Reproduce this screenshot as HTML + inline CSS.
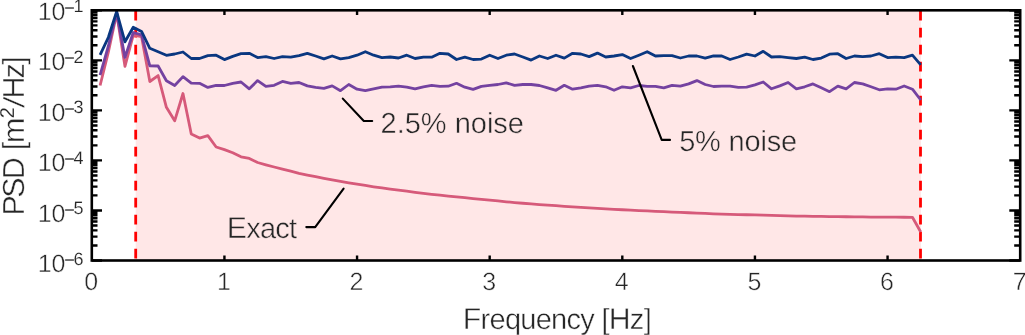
<!DOCTYPE html>
<html><head><meta charset="utf-8"><style>
html,body{margin:0;padding:0;background:#fff;}
svg{display:block;}
text{font-family:"Liberation Sans",Arial,sans-serif;text-rendering:geometricPrecision;fill:#262626;stroke:#fff;stroke-width:0.45px;paint-order:fill stroke;}
tspan.s{stroke-width:0.15px;}
tspan.m{stroke-width:0;}
.in text{stroke:#ffe7e7;}
</style></head><body>
<svg width="1025" height="335" viewBox="0 0 1025 335">
<rect x="0" y="0" width="1025" height="335" fill="#fff"/>
<rect x="135.70" y="10.30" width="785.30" height="250.20" fill="#ffe7e7"/>
<g stroke="#ff0000" stroke-width="2.8" stroke-dasharray="9.8 7.2">
<line x1="135.70" y1="10.8" x2="135.70" y2="260.50"/>
<line x1="920.50" y1="10.8" x2="920.50" y2="260.50"/>
</g>
<defs><clipPath id="ax"><rect x="91.80" y="10.30" width="928.40" height="250.20"/></clipPath></defs>
<g fill="none" stroke-width="2.8" stroke-linejoin="round" clip-path="url(#ax)">
<polyline points="100.09,85.50 108.38,52.00 116.67,13.50 124.96,66.30 133.25,35.20 141.54,36.60 149.82,81.50 158.11,75.60 166.40,107.30 174.69,120.80 182.98,93.50 191.27,134.00 199.56,138.10 207.85,135.60 216.14,147.00 224.43,149.60 232.72,152.70 241.01,156.80 249.30,158.40 257.59,162.50 265.88,164.82 274.16,167.02 282.45,169.21 290.74,171.21 299.03,173.28 307.32,175.04 315.61,176.65 323.90,178.26 332.19,179.86 340.48,181.38 348.77,182.79 357.06,184.13 365.35,185.46 373.64,186.76 381.93,187.97 390.21,189.05 398.50,190.10 406.79,191.23 415.08,192.38 423.37,193.40 431.66,194.31 439.95,195.17 448.24,196.02 456.53,196.87 464.82,197.70 473.11,198.52 481.40,199.34 489.69,200.15 497.98,200.97 506.26,201.77 514.55,202.53 522.84,203.24 531.13,203.90 539.42,204.53 547.71,205.13 556.00,205.72 564.29,206.30 572.58,206.87 580.87,207.42 589.16,207.95 597.45,208.45 605.74,208.92 614.02,209.35 622.31,209.76 630.60,210.16 638.89,210.55 647.18,210.94 655.47,211.32 663.76,211.69 672.05,212.06 680.34,212.41 688.63,212.77 696.92,213.12 705.21,213.46 713.50,213.78 721.79,214.06 730.07,214.31 738.36,214.54 746.65,214.76 754.94,214.97 763.23,215.19 771.52,215.41 779.81,215.63 788.10,215.84 796.39,216.03 804.68,216.19 812.97,216.33 821.26,216.45 829.55,216.57 837.84,216.67 846.12,216.77 854.41,216.86 862.70,216.95 870.99,217.03 879.28,217.09 887.57,217.16 895.86,217.21 904.15,217.26 912.44,217.30 920.73,232.00" stroke="#d65a7a"/>
<polyline points="100.09,75.20 108.38,46.00 116.67,12.50 124.96,57.40 133.25,32.50 141.54,34.80 149.82,65.80 158.11,66.00 166.40,80.80 174.69,85.50 182.98,76.60 191.27,83.20 199.56,83.30 207.85,87.40 216.14,85.30 224.43,85.50 232.72,83.30 241.01,82.00 249.30,88.80 257.59,80.60 265.88,86.40 274.16,85.30 282.45,81.40 290.74,83.30 299.03,82.50 307.32,85.90 315.61,87.40 323.90,88.40 332.19,85.90 340.48,90.70 348.77,84.50 357.06,89.20 365.35,90.70 373.64,88.80 381.93,87.20 390.21,86.80 398.50,86.20 406.79,87.20 415.08,88.80 423.37,86.80 431.66,85.30 439.95,86.40 448.24,86.20 456.53,83.30 464.82,87.20 473.11,89.40 481.40,86.40 489.69,85.30 497.98,84.50 506.26,82.90 514.55,85.30 522.84,84.50 531.13,84.50 539.42,85.50 547.71,87.80 556.00,90.30 564.29,85.30 572.58,89.20 580.87,87.80 589.16,86.20 597.45,85.30 605.74,86.80 614.02,90.30 622.31,86.80 630.60,87.80 638.89,85.50 647.18,86.40 655.47,86.40 663.76,87.80 672.05,85.30 680.34,86.20 688.63,83.90 696.92,80.60 705.21,84.50 713.50,86.50 721.79,86.20 730.07,86.20 738.36,87.40 746.65,87.20 754.94,84.90 763.23,82.00 771.52,88.80 779.81,85.90 788.10,82.50 796.39,88.80 804.68,86.80 812.97,83.90 821.26,87.80 829.55,91.70 837.84,86.20 846.12,88.80 854.41,82.50 862.70,83.90 870.99,86.80 879.28,89.80 887.57,88.80 895.86,89.20 904.15,86.00 912.44,89.20 920.73,100.00" stroke="#7442a0"/>
<polyline points="100.09,54.80 108.38,37.30 116.67,11.50 124.96,41.80 133.25,27.30 141.54,31.40 149.82,48.30 158.11,51.70 166.40,55.30 174.69,54.00 182.98,52.00 191.27,58.50 199.56,58.50 207.85,55.60 216.14,55.20 224.43,59.60 232.72,56.40 241.01,53.70 249.30,53.30 257.59,57.60 265.88,56.60 274.16,58.50 282.45,56.60 290.74,57.20 299.03,55.60 307.32,53.30 315.61,56.00 323.90,58.90 332.19,56.00 340.48,58.90 348.77,57.60 357.06,55.20 365.35,51.70 373.64,55.20 381.93,57.60 390.21,57.00 398.50,58.00 406.79,55.20 415.08,58.50 423.37,57.20 431.66,57.20 439.95,53.30 448.24,54.00 456.53,59.50 464.82,57.20 473.11,59.50 481.40,59.10 489.69,55.20 497.98,58.50 506.26,55.20 514.55,54.00 522.84,57.00 531.13,60.10 539.42,56.00 547.71,58.50 556.00,55.20 564.29,58.10 572.58,53.30 580.87,54.00 589.16,56.60 597.45,53.10 605.74,57.00 614.02,56.00 622.31,54.60 630.60,58.50 638.89,55.20 647.18,51.70 655.47,56.00 663.76,55.60 672.05,55.60 680.34,58.00 688.63,56.00 696.92,56.00 705.21,58.10 713.50,55.80 721.79,56.00 730.07,59.50 738.36,57.00 746.65,54.20 754.94,56.00 763.23,51.30 771.52,57.00 779.81,56.60 788.10,57.60 796.39,58.50 804.68,57.20 812.97,59.50 821.26,58.10 829.55,54.20 837.84,53.70 846.12,58.50 854.41,56.00 862.70,56.60 870.99,56.00 879.28,53.70 887.57,57.60 895.86,57.20 904.15,57.60 912.44,55.20 920.73,64.80" stroke="#0a3780"/>
</g>

<g stroke="#000" stroke-width="2.1" fill="none" stroke-linejoin="round" stroke-linecap="round">
<polyline points="343.6,188.6 315.2,227.1 306.3,227.1"/>
<polyline points="342.8,98.6 363.8,121.0 372.2,121.0"/>
<polyline points="632.9,66.0 661.7,139.9 670.0,139.9"/>
</g>
<path d="M91.80 10.30h10.2M1020.20 10.30h-10.9M91.80 45.28h5.7M1020.20 45.28h-6M91.80 36.46h5.7M1020.20 36.46h-6M91.80 30.21h5.7M1020.20 30.21h-6M91.80 25.36h5.7M1020.20 25.36h-6M91.80 21.40h5.7M1020.20 21.40h-6M91.80 18.05h5.7M1020.20 18.05h-6M91.80 15.15h5.7M1020.20 15.15h-6M91.80 12.59h5.7M1020.20 12.59h-6M91.80 60.34h10.2M1020.20 60.34h-10.9M91.80 95.32h5.7M1020.20 95.32h-6M91.80 86.50h5.7M1020.20 86.50h-6M91.80 80.25h5.7M1020.20 80.25h-6M91.80 75.40h5.7M1020.20 75.40h-6M91.80 71.44h5.7M1020.20 71.44h-6M91.80 68.09h5.7M1020.20 68.09h-6M91.80 65.19h5.7M1020.20 65.19h-6M91.80 62.63h5.7M1020.20 62.63h-6M91.80 110.38h10.2M1020.20 110.38h-10.9M91.80 145.36h5.7M1020.20 145.36h-6M91.80 136.54h5.7M1020.20 136.54h-6M91.80 130.29h5.7M1020.20 130.29h-6M91.80 125.44h5.7M1020.20 125.44h-6M91.80 121.48h5.7M1020.20 121.48h-6M91.80 118.13h5.7M1020.20 118.13h-6M91.80 115.23h5.7M1020.20 115.23h-6M91.80 112.67h5.7M1020.20 112.67h-6M91.80 160.42h10.2M1020.20 160.42h-10.9M91.80 195.40h5.7M1020.20 195.40h-6M91.80 186.58h5.7M1020.20 186.58h-6M91.80 180.33h5.7M1020.20 180.33h-6M91.80 175.48h5.7M1020.20 175.48h-6M91.80 171.52h5.7M1020.20 171.52h-6M91.80 168.17h5.7M1020.20 168.17h-6M91.80 165.27h5.7M1020.20 165.27h-6M91.80 162.71h5.7M1020.20 162.71h-6M91.80 210.46h10.2M1020.20 210.46h-10.9M91.80 245.44h5.7M1020.20 245.44h-6M91.80 236.62h5.7M1020.20 236.62h-6M91.80 230.37h5.7M1020.20 230.37h-6M91.80 225.52h5.7M1020.20 225.52h-6M91.80 221.56h5.7M1020.20 221.56h-6M91.80 218.21h5.7M1020.20 218.21h-6M91.80 215.31h5.7M1020.20 215.31h-6M91.80 212.75h5.7M1020.20 212.75h-6M91.80 260.50h10.2M1020.20 260.50h-10.9M224.43 260.50v-5M224.43 10.30v4.8M357.06 260.50v-5M357.06 10.30v4.8M489.69 260.50v-5M489.69 10.30v4.8M622.31 260.50v-5M622.31 10.30v4.8M754.94 260.50v-5M754.94 10.30v4.8M887.57 260.50v-5M887.57 10.30v4.8" stroke="#000" stroke-width="2.4" fill="none"/>
<rect x="91.80" y="10.30" width="928.40" height="250.20" fill="none" stroke="#000" stroke-width="2.6"/>
<g font-size="25">
<text x="37.7" y="19.50">10<tspan class="m" font-size="18" dx="-1.3" dy="-5.70">−</tspan><tspan class="s" font-size="18" dx="-1.2" dy="-1.5">1</tspan></text><text x="37.7" y="70.00">10<tspan class="m" font-size="18" dx="-1.3" dy="-5.70">−</tspan><tspan class="s" font-size="18" dx="-1.2" dy="-1.5">2</tspan></text><text x="37.7" y="120.50">10<tspan class="m" font-size="18" dx="-1.3" dy="-5.70">−</tspan><tspan class="s" font-size="18" dx="-1.2" dy="-1.5">3</tspan></text><text x="37.7" y="171.00">10<tspan class="m" font-size="18" dx="-1.3" dy="-5.70">−</tspan><tspan class="s" font-size="18" dx="-1.2" dy="-1.5">4</tspan></text><text x="37.7" y="221.50">10<tspan class="m" font-size="18" dx="-1.3" dy="-5.70">−</tspan><tspan class="s" font-size="18" dx="-1.2" dy="-1.5">5</tspan></text><text x="37.7" y="272.00">10<tspan class="m" font-size="18" dx="-1.3" dy="-5.70">−</tspan><tspan class="s" font-size="18" dx="-1.2" dy="-1.5">6</tspan></text>
<text x="91.20" y="289.6" text-anchor="middle">0</text><text x="223.83" y="289.6" text-anchor="middle">1</text><text x="356.46" y="289.6" text-anchor="middle">2</text><text x="489.09" y="289.6" text-anchor="middle">3</text><text x="621.71" y="289.6" text-anchor="middle">4</text><text x="754.34" y="289.6" text-anchor="middle">5</text><text x="886.97" y="289.6" text-anchor="middle">6</text><text x="1019.60" y="289.6" text-anchor="middle">7</text>
</g>
<g font-size="29" class="in">
<text x="226.8" y="237.6" letter-spacing="-0.75"><tspan font-size="30.2">E</tspan>xact</text>
<text x="380.5" y="132.8">2.5% noise</text>
<text x="679.2" y="151.1" letter-spacing="-0.2">5% noise</text>
</g><g font-size="29">
<text x="556.9" y="328.6" text-anchor="middle" letter-spacing="-0.72"><tspan font-size="30.2">F</tspan>requency [<tspan font-size="30.2">H</tspan>z]</text>
<text transform="translate(23.9 212.9) rotate(-90)" font-size="30.5"><tspan x="-2.65">P</tspan><tspan x="15.05">S</tspan><tspan x="33.65">D </tspan><tspan x="62.7">[</tspan><tspan x="69.85">m</tspan><tspan class="s" x="94.65" y="-9.8" font-size="20">2</tspan><tspan x="104.8" y="0" rotate="8">/</tspan><tspan x="114.5">H</tspan><tspan x="134.35">z</tspan><tspan x="148.25">]</tspan></text>
</g>
</svg>
</body></html>
